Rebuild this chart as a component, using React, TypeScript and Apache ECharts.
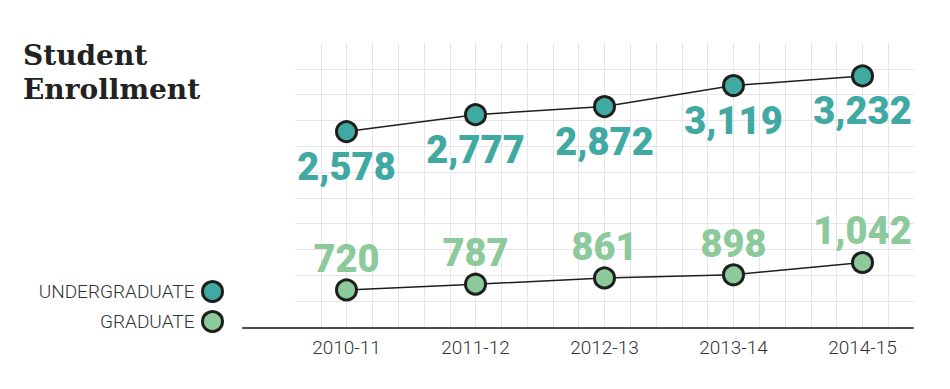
import React, { useEffect, useRef } from "react";
import * as echarts from "echarts";

const categories = ["2010-11", "2011-12", "2012-13", "2013-14", "2014-15"];
const undergraduate = [2578, 2777, 2872, 3119, 3232];
const graduate = [720, 787, 861, 898, 1042];
const titleLines = ["Student", "Enrollment"];
const seriesNames = ["UNDERGRADUATE", "GRADUATE"];

const TEAL = "#40a9a2";
const GREEN = "#8cc99b";
const GRID_GRAY = "#e6e6e6";

export default function App() {
  const ref = useRef<HTMLDivElement>(null);
  useEffect(() => {
    if (!ref.current) return;
    const chart = echarts.init(ref.current, undefined, { renderer: "svg" });
    const vColors = Array.from({ length: 25 }, (_, i) =>
      i === 0 || i === 24 ? "rgba(0,0,0,0)" : GRID_GRAY
    );
    const hColors = Array.from({ length: 12 }, (_, i) =>
      i === 0 || i === 11 ? "rgba(0,0,0,0)" : GRID_GRAY
    );
    const fmt = (v: number) => v.toLocaleString("en-US");
    chart.setOption({
      animation: false,
      title: {
        text: titleLines.join("\n"),
        left: 10,
        top: 25,
        textStyle: {
          fontFamily: "DejaVu Serif",
          fontWeight: "bold",
          fontSize: 28,
          lineHeight: 34,
          color: "#222",
        },
      },
      legend: {
        orient: "vertical",
        align: "right",
        right: 729,
        top: 267,
        itemWidth: 20,
        itemHeight: 20,
        itemGap: 7,
        icon: "circle",
        data: seriesNames,
        itemStyle: { borderColor: "#1e1e1e", borderWidth: 3 },
        textStyle: {
          fontFamily: "Roboto",
          fontWeight: 300,
          fontSize: 19,
          lineHeight: 20,
          color: "#333",
          padding: [0, 3, 0, 0],
        },
      },
      grid: [
        { left: 287, top: 35, width: 619, height: 284 },
        { left: 274, top: 35, width: 645, height: 284 },
        { left: 235, top: 35, width: 670, height: 285 },
      ],
      xAxis: [
        {
          gridIndex: 0,
          type: "value",
          min: 0,
          max: 24,
          interval: 1,
          axisLine: { show: false },
          axisTick: { show: false },
          axisLabel: { show: false },
          splitLine: { show: true, lineStyle: { color: vColors, width: 1 } },
        },
        {
          gridIndex: 1,
          type: "category",
          data: categories,
          boundaryGap: true,
          axisLine: { show: false },
          axisTick: { show: false },
          axisLabel: {
            margin: 11,
            fontFamily: "Roboto",
            fontWeight: 300,
            fontSize: 19,
            color: "#333",
          },
          splitLine: { show: false },
        },
        {
          gridIndex: 2,
          type: "value",
          min: 0,
          max: 1,
          axisLine: { show: true, lineStyle: { color: "#4a4a4a", width: 2 } },
          axisTick: { show: false },
          axisLabel: { show: false },
          splitLine: { show: false },
        },
      ],
      yAxis: [
        {
          gridIndex: 0,
          type: "value",
          min: 0,
          max: 11,
          interval: 1,
          axisLine: { show: false },
          axisTick: { show: false },
          axisLabel: { show: false },
          splitLine: { show: true, lineStyle: { color: hColors, width: 1 } },
        },
        {
          gridIndex: 1,
          type: "value",
          min: 285,
          max: 3618,
          show: false,
          splitLine: { show: false },
        },
        {
          gridIndex: 2,
          type: "value",
          min: 0,
          max: 1,
          show: false,
          splitLine: { show: false },
        },
      ],
      series: [
        {
          name: seriesNames[0],
          type: "line",
          xAxisIndex: 1,
          yAxisIndex: 1,
          data: undergraduate,
          symbol: "circle",
          symbolSize: 20,
          lineStyle: { color: "#1e1e1e", width: 1.5 },
          itemStyle: { color: TEAL, borderColor: "#1e1e1e", borderWidth: 3 },
          label: {
            show: true,
            position: "inside",
            offset: [0, 35],
            formatter: (p: any) => fmt(p.value),
            fontFamily: "Roboto",
            fontWeight: 900,
            fontSize: 38,
            color: TEAL,
          },
          z: 3,
        },
        {
          name: seriesNames[1],
          type: "line",
          xAxisIndex: 1,
          yAxisIndex: 1,
          data: graduate,
          symbol: "circle",
          symbolSize: 20,
          lineStyle: { color: "#1e1e1e", width: 1.5 },
          itemStyle: { color: GREEN, borderColor: "#1e1e1e", borderWidth: 3 },
          label: {
            show: true,
            position: "inside",
            offset: [0, -31],
            formatter: (p: any) => fmt(p.value),
            fontFamily: "Roboto",
            fontWeight: 900,
            fontSize: 38,
            color: GREEN,
          },
          z: 3,
        },
      ],
    });
    return () => chart.dispose();
  }, []);
  return <div ref={ref} style={{ width: 950, height: 389 }} />;
}
